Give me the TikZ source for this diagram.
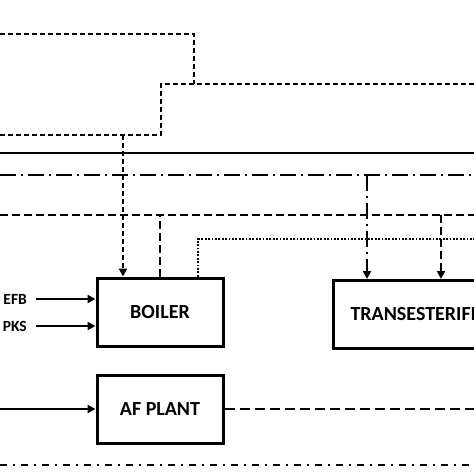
\documentclass[tikz,border=0pt]{standalone}
\usepackage{fontspec}
\setmainfont{Carlito}
\usetikzlibrary{arrows.meta}
\tikzset{
  unitbox/.style={draw, line width=3pt, rectangle, minimum height=68pt, inner sep=0pt,
    font=\fontsize{20}{22}\selectfont\bfseries},
  lbl/.style={font=\fontsize{15.5}{17}\selectfont\bfseries, inner sep=0pt},
  tip/.style={-{Triangle[width=8pt,length=8pt]}},
  shortdash/.style={line width=2.4pt, dash pattern=on 5pt off 3pt},
  meddash/.style={line width=2.4pt, dash pattern=on 8pt off 4pt},
  longdash/.style={line width=2.4pt, dash pattern=on 10pt off 5pt},
  dashdotA/.style={line width=2.4pt, dash pattern=on 16pt off 5pt on 2pt off 5pt},
  dashdotB/.style={line width=2.4pt, dash pattern=on 7pt off 6pt on 2pt off 6pt},
  dotline/.style={line width=2.6pt, dash pattern=on 1.8pt off 1.6pt},
  solidline/.style={line width=2.2pt},
}
\begin{document}
\begin{tikzpicture}[x=1pt,y=-1pt]
\useasboundingbox (0,0) rectangle (474,474);
\clip (0,0) rectangle (474,474);
\fill[white] (0,0) rectangle (474,474);

% boxes
\node[unitbox, minimum width=126pt] (boiler) at (160,312) {BOILER};
\node[unitbox, minimum width=126pt] (af) at (160,409) {AF PLANT};
\node[unitbox, anchor=north west, inner xsep=17pt] (trans) at (332,279) {TRANSESTERIFICATION};

% coordinates
\coordinate (tL) at (0,34);
\coordinate (tC) at (194,34);
\coordinate (tJ) at (194,84);
\coordinate (mA) at (161,84);
\coordinate (mR) at (474,84);
\coordinate (mB) at (161,135);
\coordinate (mL) at (0,135);
\coordinate (bT1) at (123,135);
\coordinate (sL) at (0,153);
\coordinate (sR) at (474,153);
\coordinate (ddL) at (0,175);
\coordinate (ddR) at (474,175);
\coordinate (ddJ) at (367,175);
\coordinate (dL) at (0,215);
\coordinate (dJ) at (160,215);
\coordinate (dR) at (474,215);
\coordinate (dJ2) at (441,215);
\coordinate (oC) at (198,239);
\coordinate (oR) at (474,239);
\coordinate (efbS) at (36,299);
\coordinate (pksS) at (36,326);
\coordinate (afS) at (0,409);
\coordinate (afR) at (474,409);
\coordinate (bdL) at (0,465);
\coordinate (bdR) at (474,465);

% top dashed network
\draw[shortdash] (tL) -- (tC) -- (tJ);
\draw[shortdash] (mL) -- (mB) -- (mA) -- (mR);
\draw[shortdash, tip] (bT1) -- (boiler.north -| bT1);

% solid line
\draw[solidline] (sL) -- (sR);

% dash-dot line
\draw[dashdotA] (ddL) -- (ddR);
\draw[dashdotA, tip] (ddJ) -- (trans.north -| ddJ);

% medium dashed
\draw[meddash] (dL) -- (dJ) -- (dR);
\draw[meddash] (boiler.north -| dJ) -- (dJ);
\draw[meddash, tip] (dJ2) -- (trans.north -| dJ2);

% dotted
\draw[dotline] (boiler.north -| oC) -- (oC) -- (oR);

% inputs
\node[lbl, anchor=east] (efb) at (27,299) {EFB};
\node[lbl, anchor=east] (pks) at (27,326) {PKS};
\draw[solidline, tip] (efbS) -- (boiler.west |- efbS);
\draw[solidline, tip] (pksS) -- (boiler.west |- pksS);
\draw[solidline, tip] (afS) -- (af.west |- afS);
\draw[longdash] (af.east |- afR) -- (afR);

% bottom dash-dot
\draw[dashdotB] (bdL) -- (bdR);
\end{tikzpicture}
\end{document}
